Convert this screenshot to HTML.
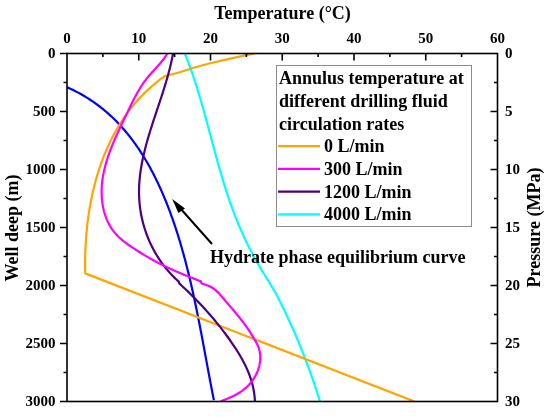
<!DOCTYPE html>
<html><head><meta charset="utf-8"><style>
html,body{margin:0;padding:0;background:#fff;}
svg{display:block;}
.t text{font-family:"Liberation Serif",serif;font-weight:bold;font-size:18px;fill:#000;}
.tk{font-family:"Liberation Serif",serif;font-weight:bold;font-size:15px;fill:#000;}
</style></head><body>
<svg width="550" height="417" viewBox="0 0 550 417">
<rect width="550" height="417" fill="#fff"/>
<defs><clipPath id="pa"><rect x="67.0" y="53.5" width="430.5" height="348.0"/></clipPath></defs>
<g fill="none" stroke-width="2.2" stroke-linejoin="round" stroke-linecap="butt" clip-path="url(#pa)">
<path d="M67.03,87.25 68.45,87.88 69.86,88.52 71.26,89.17 72.65,89.84 74.03,90.51 75.40,91.20 76.75,91.89 78.10,92.60 79.43,93.32 80.75,94.05 82.06,94.79 83.36,95.54 84.65,96.31 85.93,97.08 87.20,97.86 88.46,98.66 89.70,99.46 90.94,100.27 92.17,101.10 93.38,101.93 94.59,102.77 95.78,103.63 96.97,104.49 98.14,105.37 99.31,106.25 100.46,107.14 101.60,108.04 102.74,108.95 103.86,109.87 104.98,110.80 106.09,111.74 107.18,112.69 108.27,113.64 109.34,114.61 110.41,115.58 111.47,116.57 112.52,117.56 113.56,118.56 114.59,119.56 115.61,120.58 116.62,121.60 117.63,122.64 118.62,123.68 119.61,124.73 120.58,125.78 121.55,126.85 122.51,127.92 123.46,129.00 124.40,130.09 125.34,131.18 126.26,132.29 127.18,133.39 128.09,134.51 128.99,135.64 129.88,136.77 130.77,137.90 131.64,139.05 132.51,140.20 133.37,141.36 134.23,142.53 135.07,143.70 135.91,144.88 136.74,146.06 137.56,147.25 138.38,148.45 139.18,149.65 139.98,150.86 140.78,152.08 141.56,153.30 142.34,154.52 143.11,155.76 143.87,157.00 144.63,158.24 145.38,159.49 146.12,160.74 146.86,162.00 147.59,163.27 148.31,164.54 149.03,165.81 149.74,167.09 150.44,168.38 151.14,169.67 151.83,170.97 152.52,172.26 153.19,173.57 153.87,174.88 154.53,176.19 155.19,177.51 155.84,178.83 156.49,180.15 157.13,181.48 157.77,182.82 158.40,184.15 159.03,185.50 159.65,186.84 160.26,188.19 160.87,189.54 161.47,190.90 162.07,192.26 162.66,193.62 163.25,194.98 163.83,196.35 164.40,197.73 164.98,199.10 165.54,200.48 166.10,201.86 166.66,203.25 167.21,204.64 167.76,206.03 168.30,207.42 168.83,208.82 169.37,210.22 169.89,211.62 170.41,213.03 170.93,214.44 171.44,215.85 171.95,217.27 172.46,218.68 172.95,220.10 173.45,221.53 173.94,222.95 174.43,224.38 174.91,225.81 175.38,227.24 175.86,228.68 176.33,230.11 176.79,231.55 177.25,233.00 177.71,234.44 178.16,235.89 178.61,237.34 179.05,238.79 179.49,240.24 179.93,241.69 180.36,243.15 180.79,244.61 181.22,246.07 181.64,247.53 182.06,249.00 182.47,250.46 182.89,251.93 183.29,253.40 183.70,254.87 184.10,256.34 184.50,257.82 184.89,259.29 185.28,260.77 185.67,262.25 186.06,263.73 186.44,265.21 186.82,266.69 187.19,268.17 187.56,269.66 187.93,271.15 188.30,272.63 188.66,274.12 189.02,275.61 189.38,277.10 189.74,278.59 190.09,280.09 190.44,281.58 190.79,283.07 191.13,284.57 191.48,286.06 191.82,287.56 192.15,289.06 192.49,290.56 192.82,292.05 193.15,293.55 193.48,295.05 193.81,296.55 194.13,298.05 194.46,299.55 194.78,301.05 195.09,302.56 195.41,304.06 195.72,305.56 196.04,307.06 196.35,308.56 196.65,310.07 196.96,311.57 197.27,313.07 197.57,314.57 197.87,316.07 198.17,317.58 198.47,319.08 198.77,320.58 199.06,322.08 199.36,323.58 199.65,325.08 199.94,326.58 200.23,328.08 200.52,329.58 200.81,331.08 201.10,332.58 201.39,334.08 201.67,335.58 201.95,337.07 202.24,338.57 202.52,340.06 202.80,341.56 203.08,343.05 203.36,344.55 203.64,346.04 203.92,347.53 204.20,349.02 204.47,350.51 204.75,351.99 205.03,353.48 205.30,354.97 205.58,356.45 205.85,357.93 206.13,359.42 206.40,360.90 206.67,362.37 206.95,363.85 207.22,365.33 207.50,366.80 207.77,368.28 208.04,369.75 208.32,371.22 208.59,372.69 208.86,374.15 209.14,375.62 209.41,377.08 209.69,378.54 209.96,380.00 210.24,381.46 210.51,382.91 210.79,384.37 211.06,385.82 211.34,387.27 211.62,388.71 211.90,390.16 212.17,391.60 212.45,393.04 212.73,394.48 213.01,395.91 213.30,397.35 213.58,398.78 213.86,400.21" stroke="#0000ff"/>
<path d="M184.87,53.51 185.44,54.92 186.00,56.33 186.55,57.74 187.09,59.15 187.63,60.56 188.17,61.98 188.70,63.40 189.22,64.82 189.74,66.24 190.26,67.66 190.76,69.09 191.27,70.52 191.77,71.95 192.26,73.38 192.75,74.81 193.24,76.24 193.72,77.68 194.19,79.12 194.67,80.56 195.13,82.00 195.60,83.44 196.06,84.88 196.51,86.32 196.97,87.77 197.42,89.22 197.86,90.66 198.31,92.11 198.75,93.56 199.18,95.01 199.61,96.47 200.05,97.92 200.47,99.37 200.90,100.83 201.32,102.28 201.74,103.74 202.16,105.20 202.57,106.66 202.98,108.12 203.40,109.58 203.80,111.04 204.21,112.50 204.62,113.96 205.02,115.42 205.42,116.89 205.82,118.35 206.22,119.81 206.62,121.28 207.02,122.74 207.41,124.21 207.81,125.67 208.20,127.14 208.60,128.60 208.99,130.07 209.38,131.53 209.77,133.00 210.17,134.46 210.56,135.93 210.95,137.40 211.34,138.86 211.73,140.33 212.12,141.79 212.52,143.26 212.91,144.72 213.30,146.19 213.70,147.65 214.09,149.12 214.49,150.58 214.88,152.04 215.28,153.51 215.68,154.97 216.08,156.43 216.48,157.89 216.89,159.35 217.29,160.81 217.70,162.27 218.11,163.73 218.52,165.19 218.93,166.65 219.34,168.10 219.76,169.56 220.18,171.01 220.60,172.46 221.02,173.92 221.45,175.37 221.88,176.82 222.31,178.27 222.75,179.72 223.19,181.16 223.63,182.61 224.07,184.05 224.52,185.50 224.98,186.94 225.43,188.38 225.89,189.82 226.35,191.25 226.82,192.69 227.29,194.12 227.77,195.56 228.25,196.99 228.73,198.42 229.22,199.84 229.71,201.27 230.21,202.70 230.71,204.12 231.22,205.54 231.73,206.96 232.25,208.37 232.77,209.79 233.30,211.20 233.83,212.61 234.37,214.02 234.91,215.43 235.46,216.83 236.02,218.23 236.57,219.63 237.14,221.03 237.71,222.43 238.28,223.82 238.86,225.21 239.45,226.60 240.04,227.99 240.64,229.37 241.24,230.75 241.85,232.13 242.47,233.51 243.09,234.88 243.71,236.25 244.34,237.62 244.98,238.99 245.63,240.35 246.28,241.71 246.93,243.07 247.59,244.42 248.26,245.77 248.94,247.12 249.62,248.47 250.30,249.81 251.00,251.15 251.70,252.49 252.40,253.82 253.11,255.16 253.83,256.48 254.56,257.81 255.29,259.13 256.02,260.45 256.76,261.76 257.51,263.08 258.27,264.39 259.03,265.69 259.80,267.00 260.57,268.30 261.35,269.59 262.13,270.89 262.92,272.18 263.72,273.46 264.53,274.74 265.34,276.02 266.15,277.30 266.97,278.57 267.80,279.84 268.64,281.11 269.48,282.37 L270.14,284.17 271.00,285.39 271.83,286.63 272.64,287.89 273.41,289.17 274.17,290.46 274.91,291.77 275.63,293.09 276.34,294.42 277.04,295.76 277.73,297.10 278.42,298.45 279.10,299.80 279.78,301.16 280.47,302.51 281.14,303.87 281.82,305.23 282.49,306.60 283.16,307.97 283.83,309.34 284.49,310.71 285.15,312.08 285.81,313.46 286.47,314.84 287.12,316.22 287.77,317.60 288.41,318.99 289.06,320.37 289.70,321.76 290.33,323.15 290.96,324.54 291.59,325.94 292.22,327.33 292.84,328.73 293.46,330.13 294.07,331.53 294.68,332.93 295.29,334.33 295.89,335.73 296.49,337.14 297.08,338.54 297.67,339.95 298.26,341.35 298.84,342.76 299.42,344.17 300.00,345.58 300.57,346.99 301.14,348.40 301.70,349.82 302.26,351.23 302.82,352.65 303.38,354.07 303.93,355.48 304.47,356.90 305.02,358.32 305.56,359.75 306.10,361.17 306.63,362.59 307.16,364.02 307.69,365.44 308.22,366.87 308.74,368.30 309.26,369.73 309.78,371.16 310.29,372.59 310.81,374.03 311.32,375.46 311.82,376.90 312.33,378.33 312.83,379.77 313.33,381.21 313.83,382.65 314.32,384.09 314.81,385.54 315.30,386.98 315.79,388.43 316.28,389.88 316.76,391.32 317.24,392.77 317.72,394.23 318.20,395.68 318.68,397.13 319.15,398.59 319.62,400.04 320.10,401.50" stroke="#00ffff"/>
<path d="M254.30,53.50 230.00,58.70 208.20,63.80 193.60,67.70 179.10,72.50 168.90,75.00 164.50,76.20 L164.59,76.22 163.31,77.13 162.05,78.05 160.80,78.99 159.55,79.93 158.33,80.88 157.11,81.84 155.91,82.81 154.72,83.79 153.54,84.78 152.37,85.78 151.21,86.79 150.07,87.81 148.93,88.84 147.81,89.88 146.70,90.92 145.61,91.98 144.52,93.04 143.45,94.11 142.38,95.19 141.33,96.28 140.29,97.38 139.27,98.49 138.25,99.60 137.24,100.73 136.25,101.86 135.27,103.00 134.29,104.15 133.33,105.30 132.38,106.47 131.44,107.64 130.52,108.82 129.60,110.00 128.69,111.20 127.80,112.40 126.91,113.61 126.04,114.82 125.18,116.05 124.32,117.28 123.48,118.52 122.65,119.76 121.83,121.01 121.02,122.27 120.22,123.53 119.43,124.81 118.65,126.08 117.88,127.37 117.12,128.66 116.37,129.95 115.64,131.26 114.91,132.56 114.19,133.88 113.48,135.20 112.78,136.53 112.10,137.86 111.42,139.20 110.75,140.54 110.09,141.89 109.44,143.24 108.80,144.60 108.18,145.97 107.56,147.34 106.95,148.71 106.34,150.09 105.75,151.47 105.17,152.86 104.60,154.26 104.04,155.66 103.48,157.06 102.94,158.47 102.40,159.88 101.88,161.29 101.36,162.71 100.85,164.14 100.35,165.57 99.86,167.00 99.38,168.44 98.91,169.88 98.45,171.32 97.99,172.77 97.55,174.22 97.11,175.67 96.68,177.13 96.26,178.59 95.85,180.05 95.45,181.52 95.06,182.99 94.67,184.46 94.29,185.94 93.93,187.41 93.57,188.90 93.21,190.38 92.87,191.86 92.53,193.35 92.21,194.84 91.89,196.34 91.57,197.83 91.27,199.33 90.98,200.83 90.69,202.33 90.41,203.83 90.14,205.33 89.87,206.84 89.62,208.35 89.37,209.85 89.13,211.36 88.89,212.88 88.67,214.39 88.45,215.90 88.24,217.42 88.03,218.93 87.84,220.45 87.65,221.97 87.47,223.48 87.29,225.00 87.12,226.52 86.96,228.04 86.81,229.56 86.66,231.08 86.53,232.60 86.39,234.12 86.27,235.64 86.15,237.16 86.04,238.68 85.93,240.20 85.84,241.72 85.74,243.24 85.66,244.75 85.58,246.27 85.51,247.79 85.44,249.30 85.39,250.82 85.33,252.33 85.29,253.85 85.25,255.36 85.21,256.87 85.19,258.38 85.17,259.89 85.15,261.39 85.14,262.90 85.14,264.40 85.14,265.90 85.15,267.40 85.17,268.90 85.19,270.40 85.22,271.89 85.25,273.39 L414.5,401.5" stroke="#ffa500"/>
<path d="M173.01,53.54 172.75,54.98 172.48,56.41 172.19,57.85 171.90,59.29 171.59,60.73 171.27,62.18 170.95,63.62 170.61,65.06 170.27,66.51 169.91,67.95 169.55,69.40 169.17,70.84 168.79,72.29 168.40,73.74 168.00,75.19 167.60,76.64 167.19,78.09 166.77,79.54 166.34,80.99 165.91,82.44 165.47,83.90 165.03,85.35 164.58,86.81 164.13,88.26 163.67,89.72 163.21,91.18 162.74,92.63 162.27,94.09 161.80,95.55 161.32,97.01 160.84,98.47 160.36,99.93 159.88,101.39 159.39,102.85 158.91,104.32 158.42,105.78 157.93,107.24 157.44,108.71 156.95,110.17 156.46,111.64 155.98,113.11 155.49,114.57 155.00,116.04 154.52,117.51 154.03,118.98 153.55,120.45 153.07,121.92 152.59,123.39 152.12,124.86 151.65,126.33 151.18,127.80 150.72,129.27 150.26,130.75 149.81,132.22 149.36,133.69 148.92,135.17 148.48,136.64 148.05,138.12 147.62,139.59 147.20,141.07 146.79,142.55 146.38,144.02 145.98,145.50 145.59,146.98 145.21,148.46 144.83,149.94 144.47,151.42 144.11,152.90 143.76,154.38 143.43,155.86 143.10,157.34 142.78,158.82 142.47,160.30 142.18,161.78 141.89,163.26 141.62,164.75 141.36,166.23 141.11,167.71 140.87,169.20 140.65,170.68 140.43,172.16 140.24,173.65 140.05,175.13 139.88,176.62 139.73,178.10 139.59,179.59 139.46,181.07 139.35,182.56 139.25,184.05 139.17,185.53 139.11,187.02 139.07,188.51 139.04,190.00 139.02,191.48 139.03,192.97 139.05,194.46 139.09,195.95 139.15,197.44 139.23,198.92 139.33,200.41 139.44,201.90 139.57,203.38 139.73,204.87 139.89,206.35 140.08,207.84 140.29,209.32 140.51,210.80 140.75,212.27 141.01,213.75 141.29,215.22 141.58,216.69 141.89,218.15 142.23,219.62 142.57,221.08 142.94,222.53 143.33,223.98 143.73,225.43 144.15,226.87 144.59,228.31 145.04,229.74 145.52,231.17 146.01,232.60 146.52,234.01 147.04,235.42 147.59,236.83 148.15,238.23 148.73,239.62 149.33,241.01 149.94,242.39 150.57,243.76 151.22,245.13 151.89,246.49 152.58,247.84 153.28,249.18 154.00,250.52 154.74,251.84 155.49,253.16 156.26,254.47 157.05,255.77 157.86,257.06 158.68,258.34 159.52,259.61 160.38,260.87 161.26,262.12 162.15,263.36 163.06,264.59 163.99,265.81 164.93,267.02 165.89,268.22 166.87,269.40 167.87,270.58 168.88,271.74 169.91,272.89 170.96,274.03 172.02,275.15 173.10,276.26 174.20,277.36 175.32,278.45 176.45,279.52 177.60,280.58 178.76,281.62 L179.28,283.43 180.37,284.43 181.47,285.44 182.56,286.45 183.65,287.47 184.74,288.50 185.83,289.53 186.92,290.57 188.00,291.61 189.08,292.66 190.16,293.72 191.24,294.78 192.31,295.85 193.38,296.92 194.45,298.00 195.51,299.08 196.58,300.17 197.63,301.27 198.69,302.37 199.74,303.47 200.79,304.58 201.84,305.70 202.88,306.82 203.91,307.95 204.95,309.08 205.98,310.22 207.00,311.36 208.02,312.51 209.04,313.67 210.05,314.82 211.06,315.99 212.06,317.16 213.06,318.33 214.05,319.51 215.04,320.69 216.02,321.88 216.99,323.07 217.97,324.27 218.93,325.47 219.89,326.68 220.84,327.89 221.79,329.10 222.73,330.32 223.67,331.55 224.60,332.78 225.52,334.01 226.44,335.25 227.35,336.49 228.25,337.74 229.15,338.99 230.04,340.25 230.92,341.51 231.79,342.77 232.66,344.04 233.52,345.31 234.37,346.59 235.22,347.87 236.05,349.15 236.87,350.45 237.69,351.74 238.49,353.04 239.28,354.35 240.06,355.66 240.82,356.97 241.58,358.30 242.31,359.63 243.04,360.96 243.74,362.30 244.44,363.65 245.11,365.00 245.77,366.36 246.41,367.73 247.03,369.11 247.64,370.49 248.22,371.88 248.79,373.28 249.33,374.68 249.85,376.09 250.35,377.52 250.83,378.95 251.29,380.38 251.72,381.83 252.13,383.29 252.51,384.75 252.87,386.22 253.20,387.71 253.50,389.20 253.78,390.70 254.03,392.21 254.26,393.73 254.45,395.27 254.61,396.81 254.75,398.36 254.85,399.92 254.92,401.50" stroke="#4b0082"/>
<path d="M167.23,53.52 166.54,54.74 165.79,55.95 164.99,57.14 164.16,58.32 163.29,59.50 162.38,60.66 161.44,61.81 160.47,62.96 159.48,64.11 158.48,65.25 157.45,66.39 156.42,67.52 155.38,68.66 154.33,69.80 153.29,70.94 152.25,72.08 151.22,73.23 150.20,74.38 149.19,75.55 148.21,76.72 147.25,77.90 146.31,79.09 145.40,80.29 144.50,81.51 143.63,82.73 142.78,83.96 141.95,85.20 141.14,86.45 140.34,87.70 139.56,88.97 138.79,90.24 138.04,91.52 137.31,92.80 136.58,94.10 135.87,95.40 135.17,96.70 134.47,98.02 133.79,99.33 133.11,100.66 132.45,101.98 131.78,103.32 131.12,104.65 130.47,105.99 129.82,107.34 129.17,108.69 128.52,110.04 127.87,111.39 127.23,112.75 126.58,114.11 125.92,115.47 125.27,116.84 124.61,118.21 123.96,119.57 123.30,120.94 122.64,122.32 121.98,123.69 121.33,125.07 120.67,126.45 120.02,127.83 119.37,129.22 118.73,130.60 118.08,131.99 117.45,133.38 116.81,134.77 116.19,136.17 115.56,137.57 114.95,138.97 114.34,140.37 113.74,141.78 113.15,143.19 112.56,144.60 111.99,146.01 111.42,147.42 110.87,148.84 110.32,150.26 109.79,151.68 109.27,153.11 108.76,154.54 108.26,155.97 107.78,157.40 107.31,158.84 106.86,160.28 106.42,161.72 105.99,163.16 105.58,164.61 105.19,166.06 104.82,167.51 104.46,168.97 104.12,170.42 103.81,171.89 103.51,173.35 103.23,174.82 102.97,176.28 102.73,177.76 102.51,179.23 102.31,180.71 102.14,182.19 101.99,183.67 101.87,185.16 101.76,186.65 101.69,188.14 101.63,189.64 101.61,191.14 101.61,192.64 101.63,194.14 101.69,195.64 101.77,197.15 101.88,198.65 102.01,200.15 102.18,201.64 102.37,203.13 102.60,204.62 102.85,206.10 103.14,207.57 103.46,209.03 103.80,210.49 104.18,211.94 104.59,213.37 105.04,214.79 105.52,216.20 106.03,217.60 106.57,218.98 107.15,220.34 107.76,221.69 108.41,223.02 109.10,224.34 109.82,225.63 110.58,226.90 111.37,228.16 112.20,229.39 113.07,230.59 113.98,231.77 114.93,232.93 115.91,234.06 116.94,235.17 118.00,236.24 119.09,237.30 120.21,238.33 121.37,239.34 122.54,240.33 123.74,241.30 124.96,242.24 126.20,243.18 127.45,244.09 128.71,244.99 129.98,245.87 131.26,246.74 132.54,247.60 133.82,248.44 135.10,249.28 136.37,250.10 137.65,250.92 138.91,251.73 140.18,252.53 141.44,253.31 142.71,254.09 143.97,254.87 145.24,255.63 146.51,256.38 147.78,257.13 149.06,257.87 150.34,258.60 151.63,259.32 152.93,260.03 154.22,260.74 155.53,261.44 156.84,262.13 158.15,262.81 159.47,263.49 160.80,264.16 162.13,264.83 163.46,265.48 164.80,266.13 166.15,266.78 167.50,267.42 168.85,268.05 170.20,268.68 171.56,269.30 172.93,269.91 174.30,270.52 175.67,271.13 177.04,271.73 178.42,272.32 179.80,272.91 181.19,273.49 182.57,274.07 183.96,274.65 185.36,275.22 186.75,275.79 188.15,276.35 189.55,276.91 190.95,277.47 192.35,278.02 193.76,278.57 195.17,279.12 196.58,279.66 197.99,280.20 199.40,280.74 200.81,281.28 L201.39,283.12 202.72,283.66 204.09,284.17 205.47,284.68 206.86,285.20 208.25,285.74 209.61,286.34 210.94,286.99 212.22,287.72 213.45,288.53 214.64,289.40 215.79,290.34 216.90,291.34 217.98,292.39 219.03,293.47 220.06,294.59 221.08,295.74 222.08,296.90 223.08,298.08 224.07,299.25 225.06,300.43 226.05,301.60 227.05,302.76 228.04,303.93 229.03,305.09 230.02,306.24 231.01,307.40 232.00,308.56 232.98,309.71 233.96,310.87 234.94,312.03 235.91,313.19 236.88,314.35 237.83,315.51 238.79,316.68 239.73,317.85 240.67,319.03 241.59,320.21 242.51,321.40 243.42,322.59 244.31,323.79 245.20,325.00 246.07,326.22 246.93,327.45 247.78,328.69 248.61,329.93 249.43,331.19 250.24,332.46 251.05,333.74 251.84,335.03 252.64,336.34 253.43,337.65 254.22,338.98 255.02,340.32 255.80,341.67 256.56,343.04 257.26,344.42 257.90,345.82 258.46,347.24 258.95,348.67 259.35,350.11 259.68,351.56 259.94,353.02 260.12,354.49 260.23,355.96 260.28,357.44 260.25,358.91 260.16,360.39 260.01,361.86 259.79,363.33 259.51,364.80 259.17,366.25 258.78,367.70 258.32,369.13 257.81,370.55 257.25,371.95 256.63,373.34 255.97,374.71 255.25,376.06 254.49,377.38 253.68,378.68 252.82,379.95 251.92,381.19 250.99,382.41 250.01,383.59 248.99,384.73 247.93,385.84 246.84,386.92 245.72,387.95 244.56,388.94 243.37,389.89 242.16,390.80 240.91,391.66 239.65,392.49 238.36,393.28 237.05,394.04 235.72,394.77 234.37,395.48 233.01,396.15 231.64,396.81 230.26,397.44 228.87,398.06 227.48,398.65 226.08,399.24 224.68,399.82 223.29,400.38 221.89,400.94 220.50,401.50" stroke="#ff00ff"/>
</g>
<g stroke="#000" stroke-width="2" fill="none">
<path d="M102.88,53.5 V57.0 M138.75,53.5 V60.5 M174.62,53.5 V57.0 M210.50,53.5 V60.5 M246.38,53.5 V57.0 M282.25,53.5 V60.5 M318.12,53.5 V57.0 M354.00,53.5 V60.5 M389.88,53.5 V57.0 M425.75,53.5 V60.5 M461.62,53.5 V57.0 M67.0 53.50 H60.0 M67.0 82.50 H63.5 M67.0 111.50 H60.0 M67.0 140.50 H63.5 M67.0 169.50 H60.0 M67.0 198.50 H63.5 M67.0 227.50 H60.0 M67.0 256.50 H63.5 M67.0 285.50 H60.0 M67.0 314.50 H63.5 M67.0 343.50 H60.0 M67.0 372.50 H63.5 M67.0 401.50 H60.0 M497.5 82.50 H494.0 M497.5 111.50 H490.5 M497.5 140.50 H494.0 M497.5 169.50 H490.5 M497.5 198.50 H494.0 M497.5 227.50 H490.5 M497.5 256.50 H494.0 M497.5 285.50 H490.5 M497.5 314.50 H494.0 M497.5 343.50 H490.5 M497.5 372.50 H494.0" stroke-width="1.6"/>
<rect x="67.0" y="53.5" width="430.5" height="348.0" stroke-width="1.6"/>
</g>
<rect x="276.5" y="65.5" width="195" height="161" fill="#fff" stroke="#8c8c8c" stroke-width="1"/>
<g stroke-width="2.2">
<line x1="278" y1="146.2" x2="320" y2="146.2" stroke="#ffa500"/>
<line x1="278" y1="168.9" x2="320" y2="168.9" stroke="#ff00ff"/>
<line x1="278" y1="191.6" x2="320" y2="191.6" stroke="#4b0082"/>
<line x1="278" y1="214.4" x2="320" y2="214.4" stroke="#00ffff"/>
</g>
<g class="t">
<text x="279" y="84.4">Annulus temperature at</text>
<text x="279" y="107">different drilling fluid</text>
<text x="279" y="129.7">circulation rates</text>
<text x="324" y="152.3">0 L/min</text>
<text x="324" y="175">300 L/min</text>
<text x="324" y="197.7">1200 L/min</text>
<text x="324" y="220.4">4000 L/min</text>
<text x="210" y="262.5">Hydrate phase equilibrium curve</text>
<text x="282.5" y="18.6" text-anchor="middle">Temperature (°C)</text>
<text transform="translate(18,228) rotate(-90)" text-anchor="middle">Well deep (m)</text>
<text transform="translate(539.5,227.5) rotate(-90)" text-anchor="middle">Pressure (MPa)</text>
</g>
<line x1="212" y1="244" x2="180" y2="208" stroke="#000" stroke-width="2"/>
<polygon points="172.2,199 185,208.4 178.4,213" fill="#000"/>
<text x="67.00" y="43" text-anchor="middle" class="tk">0</text><text x="138.75" y="43" text-anchor="middle" class="tk">10</text><text x="210.50" y="43" text-anchor="middle" class="tk">20</text><text x="282.25" y="43" text-anchor="middle" class="tk">30</text><text x="354.00" y="43" text-anchor="middle" class="tk">40</text><text x="425.75" y="43" text-anchor="middle" class="tk">50</text><text x="497.50" y="43" text-anchor="middle" class="tk">60</text><text x="55.5" y="57.80" text-anchor="end" class="tk">0</text><text x="505" y="57.80" text-anchor="start" class="tk">0</text><text x="55.5" y="115.80" text-anchor="end" class="tk">500</text><text x="505" y="115.80" text-anchor="start" class="tk">5</text><text x="55.5" y="173.80" text-anchor="end" class="tk">1000</text><text x="505" y="173.80" text-anchor="start" class="tk">10</text><text x="55.5" y="231.80" text-anchor="end" class="tk">1500</text><text x="505" y="231.80" text-anchor="start" class="tk">15</text><text x="55.5" y="289.80" text-anchor="end" class="tk">2000</text><text x="505" y="289.80" text-anchor="start" class="tk">20</text><text x="55.5" y="347.80" text-anchor="end" class="tk">2500</text><text x="505" y="347.80" text-anchor="start" class="tk">25</text><text x="55.5" y="405.80" text-anchor="end" class="tk">3000</text><text x="505" y="405.80" text-anchor="start" class="tk">30</text>
</svg>
</body></html>
